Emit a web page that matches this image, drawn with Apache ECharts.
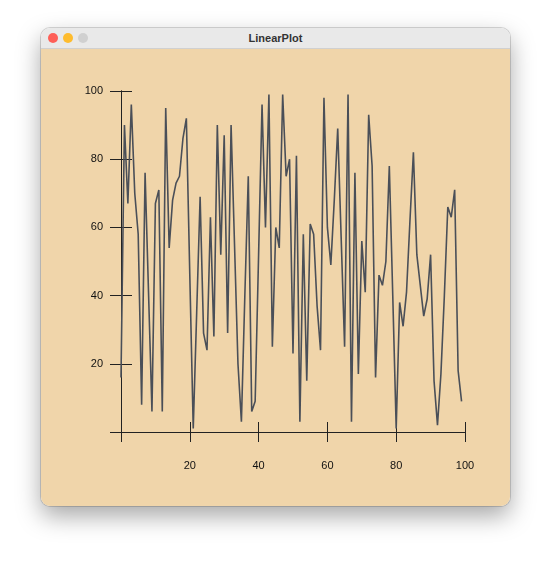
<!DOCTYPE html>
<html><head><meta charset="utf-8">
<script src="https://cdn.jsdelivr.net/npm/echarts@6/dist/echarts.min.js"></script>
<style>
body{margin:0;background:#fff;width:552px;height:562px;position:relative;font-family:"Helvetica Neue",Arial,sans-serif}
#win{position:absolute;left:41px;top:28px;width:469px;height:478px;border-radius:9px;overflow:hidden;box-shadow:0 10px 25px rgba(0,0,0,.35),0 0 0 1px rgba(0,0,0,.15)}
#bar{height:20px;background:#e9e9e9;border-bottom:1px solid #d0d0d0;text-align:center;font:bold 11px "Liberation Sans",sans-serif;line-height:20px;color:#333;position:relative}
.d{position:absolute;top:5px;width:10px;height:10px;border-radius:50%}
#chart{width:469px;height:457px;background:#f0d5aa}
</style></head><body>
<div id="win"><div id="bar"><span class="d" style="left:7px;background:#fe5f57"></span><span class="d" style="left:22px;background:#febc2e"></span><span class="d" style="left:37px;background:#d0d0d0"></span>LinearPlot</div><div id="chart"></div></div>
<script>
const values = [16,90,67,96,70,58,8,76,41,6,67,71,6,95,54,68,73,75,86,92,
  46,1,35,69,29,24,63,28,90,52,87,29,90,55,20,3,40,75,6,9,
  52,96,60,99,25,60,54,99,75,80,23,81,3,58,15,61,58,37,24,98,
  60,49,68,89,57,25,99,3,76,17,56,41,93,78,16,46,43,50,78,40,
  1,38,31,41,62,82,52,43,34,39,52,15,2,17,40,66,63,71,18,9];
const xs = values.map((v, i) => [i, v]);

const chart = echarts.init(document.getElementById("chart"));
const base = {type: "value", min: 0, max: 100, interval: 20, splitLine: {show: false},
  axisLine: {onZero: true, lineStyle: {color: "#222", width: 1}}};
const lbl = {color: "#111", fontSize: 11, formatter: v => v === 0 ? "" : v};
chart.setOption({
  animation: false,
  grid: {left: 80, right: 45, top: 42, bottom: 74},
  xAxis: [
    {...base, axisLabel: {...lbl, margin: 28}, axisTick: {length: 10, lineStyle: {color: "#222"}}},
    {...base, position: "bottom", axisLabel: {show: false}, axisTick: {inside: true, length: 10, lineStyle: {color: "#222"}}}
  ],
  yAxis: [
    {...base, axisLabel: {...lbl, margin: 18}, axisTick: {length: 11, lineStyle: {color: "#222"}}},
    {...base, position: "left", axisLabel: {show: false}, axisTick: {inside: true, length: 11, lineStyle: {color: "#222"}}}
  ],
  series: [{type: "line", data: xs, showSymbol: false, lineStyle: {color: "#4a4f58", width: 1.6}}]
});
</script></body></html>
